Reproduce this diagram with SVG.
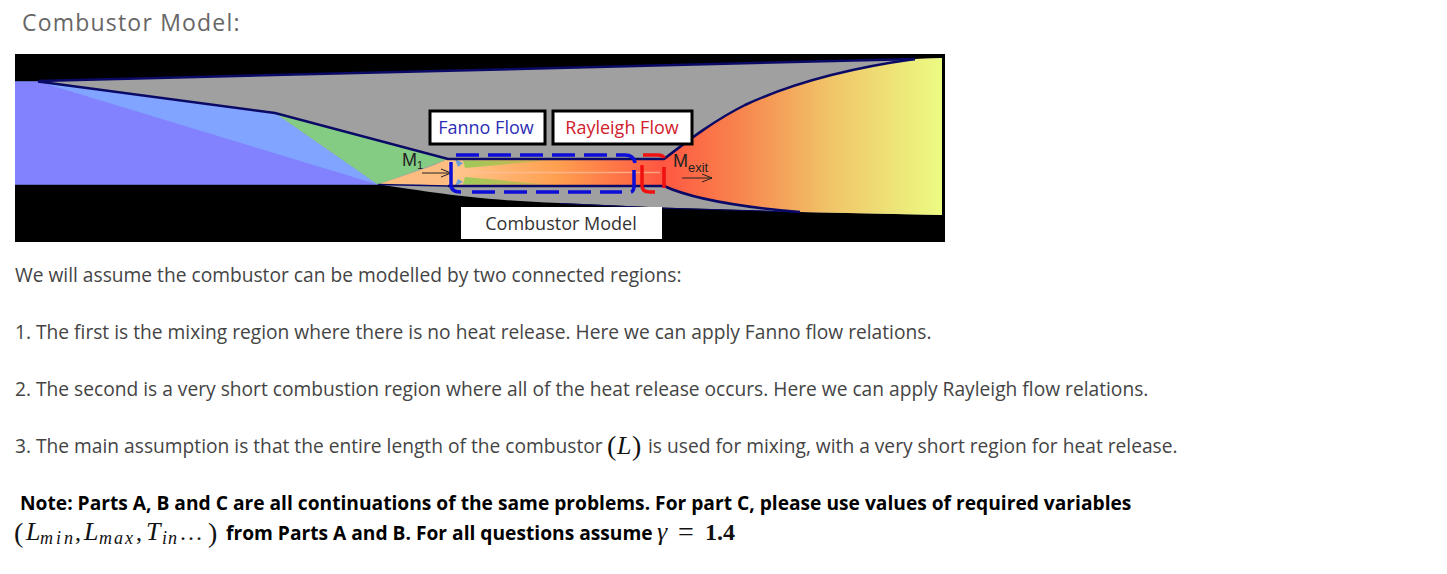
<svg xmlns="http://www.w3.org/2000/svg" width="1447" height="574" viewBox="0 0 1447 574">
<style>
.t{font-family:"Open Sans","Noto Sans",sans-serif;font-size:19.2px;fill:#444}
.b{font-family:"Open Sans","Noto Sans",sans-serif;font-size:19.2px;font-weight:700;fill:#000}
.m{font-family:"Liberation Serif",serif;fill:#111}
.mi{font-family:"Liberation Serif",serif;font-style:italic;fill:#111}
.c{font-family:"Open Sans","Noto Sans",sans-serif;font-size:18px}
.box{fill:#fff;stroke:#000;stroke-width:3}
.lab{font-family:"Liberation Sans",sans-serif;fill:#222}
.w{fill:none;stroke:#0a0a66;stroke-width:2.5}
.a{fill:none;stroke:#222;stroke-width:1}
.bl{fill:none;stroke:#0d0dd8;stroke-width:3.500}
.rd{fill:none;stroke:#f01010;stroke-width:3.500}
</style>
<defs>
<linearGradient id="ex" gradientUnits="userSpaceOnUse" x1="660" y1="0" x2="942" y2="0"><stop offset="0" stop-color="#ff5540"/><stop offset=".3" stop-color="#f7884f"/><stop offset=".6" stop-color="#f0c468"/><stop offset="1" stop-color="#ecfb82"/></linearGradient>
<linearGradient id="cb" gradientUnits="userSpaceOnUse" x1="448" y1="0" x2="664" y2="0"><stop offset="0" stop-color="#ffc890"/><stop offset=".5" stop-color="#ffa050"/><stop offset="1" stop-color="#ff5540"/></linearGradient>
<linearGradient id="gr" gradientUnits="userSpaceOnUse" x1="460" y1="0" x2="550" y2="0"><stop offset="0" stop-color="#9ccb5a"/><stop offset="1" stop-color="#d4b04e"/></linearGradient>
<marker id="ar" markerWidth="12" markerHeight="10" refX="11" refY="5" orient="auto" markerUnits="userSpaceOnUse"><path d="M1 1L11 5L1 9" fill="none" stroke="#222" stroke-width="1"/></marker>
</defs>
<rect width="1447" height="574" fill="#fff"/>
<text x="22" y="30.500" font-family="'Open Sans',sans-serif" font-size="23px" letter-spacing="1.2px" fill="#666">Combustor Model:</text>
<g id="figure">
<rect x="15" y="54" width="930" height="188" fill="#000"/>
<path d="M38 81.500L915 59L942 58V215L800 212L660 207.500L560 203C470 200 420 190 378 184.500Z" fill="#a0a0a0"/>
<path d="M15 81.500H38L275 113L378 184.500H15Z" fill="#80a4ff"/>
<path d="M15 81.500H38L378 184.500H15Z" fill="#8282ff"/>
<path d="M275 113L448 159L378 184.500Z" fill="#84cc84"/>
<path d="M378 184.500L432 166L448 159V186L420 184.500Z" fill="#fdbd80"/>
<rect x="448" y="159" width="216" height="27" fill="url(#cb)"/>
<path d="M463 160.500H548L465 168Z" fill="url(#gr)"/>
<path d="M463 184.500H548L465 177Z" fill="url(#gr)"/>
<path d="M455 159L463 163L458 167Z" fill="#6aa0d8"/>
<path d="M458 179L463 182L455 186Z" fill="#6aa0d8"/>
<path d="M465 172.500H660" stroke="#ffc0a0" stroke-width="1.500" opacity=".7"/>
<path d="M664 159C690 139 715 120 745 105C790 84 850 68 915 59L942 58V215L800 212C740 207 690 198 664 186Z" fill="url(#ex)"/>
</g>
<g id="connectors">
<path class="w" d="M38 81.500L275 113L448 159H664C690 139 715 120 745 105C790 84 850 68 915 59"/>
<path class="w" d="M38 81L915 59"/>
<path class="w" d="M448 186H664C690 198 740 207 800 212"/>
<path d="M378 184.500L448 186" stroke="#0a0a66" stroke-width="1.500" fill="none"/>
<path d="M560 203.500L660 208L800 212" stroke="#0a0a66" stroke-width="1" fill="none"/>
<path class="a" marker-end="url(#ar)" d="M422 173H451"/>
<path class="a" marker-end="url(#ar)" d="M682 178H712"/>
<path class="bl" stroke-dasharray="23 9" d="M456 155H625Q634 155 635 163"/>
<path class="bl" d="M451 162V185Q451 192 461 192"/>
<path class="bl" stroke-dasharray="23 9" d="M472 192H622"/>
<path class="bl" d="M634 170V186Q634 191 631 192"/>
<path class="rd" d="M643 155H658Q663 155 664 158M642 165V186Q642 192 650 192H655M664 167V188"/>
</g>
<g id="fanno-flow"><rect class="box" x="430" y="111" width="115" height="33"/><text class="c" x="486" y="134" text-anchor="middle" fill="#2d2db4">Fanno Flow</text></g>
<g id="rayleigh-flow"><rect class="box" x="553" y="111" width="139" height="33"/><text class="c" x="622" y="134" text-anchor="middle" fill="#d0202c">Rayleigh Flow</text></g>
<g id="combustor-model"><rect x="461" y="207" width="201" height="32" fill="#fff"/><text class="c" x="561" y="230" text-anchor="middle" fill="#333">Combustor Model</text></g>
<g id="m1"><text class="lab" x="402" y="166" font-size="18">M<tspan font-size="11" dy="3">1</tspan></text></g>
<g id="mexit"><text class="lab" x="673" y="167" font-size="18">M<tspan font-size="13" dy="5">exit</tspan></text></g>
<text class="t" x="15" y="282">We will assume the combustor can be modelled by two connected regions:</text>
<text class="t" x="15" y="339">1. The first is the mixing region where there is no heat release. Here we can apply Fanno flow relations.</text>
<text class="t" x="15" y="396">2. The second is a very short combustion region where all of the heat release occurs. Here we can apply Rayleigh flow relations.</text>
<text class="t" x="15" y="453">3. The main assumption is that the entire length of the combustor</text>
<text class="m" x="607" y="455" font-size="28">(</text><text class="mi" x="617" y="454" font-size="26">L</text><text class="m" x="632" y="455" font-size="28">)</text>
<text class="t" x="648" y="453">is used for mixing, with a very short region for heat release.</text>
<text class="b" x="20" y="510">Note: Parts A, B and C are all continuations of the same problems. For part C, please use values of required variables</text>
<text class="m" x="14" y="542" font-size="28">(</text>
<text class="mi" x="26" y="540" font-size="26">L</text><text class="mi" x="40" y="544" font-size="18" textLength="33">min</text><text class="m" x="75" y="540" font-size="24">,</text>
<text class="mi" x="84" y="540" font-size="26">L</text><text class="mi" x="99" y="544" font-size="18" textLength="34">max</text><text class="m" x="136" y="540" font-size="24">,</text>
<text class="mi" x="146" y="540" font-size="26">T</text><text class="mi" x="162" y="544" font-size="18" textLength="15">in</text><text class="m" x="180" y="540" font-size="24" letter-spacing="2px">...</text>
<text class="m" x="208" y="542" font-size="28">)</text>
<text class="b" x="226" y="540">from Parts A and B. For all questions assume</text>
<text class="mi" x="657" y="540" font-size="26">γ</text>
<text class="m" x="678" y="541" font-size="28">=</text>
<text class="m" x="705" y="540" font-size="24" font-weight="700">1.4</text>
</svg>
